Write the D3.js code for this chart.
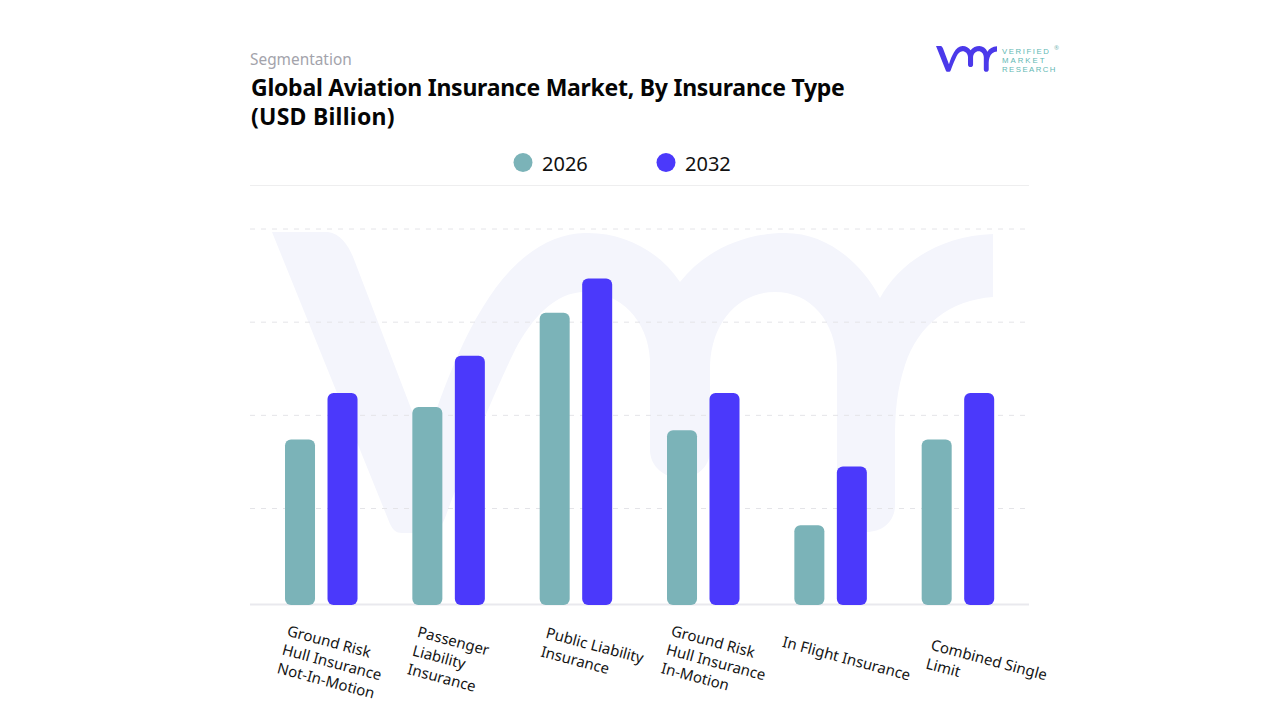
<!DOCTYPE html>
<html><head><meta charset="utf-8">
<script src="https://cdn.jsdelivr.net/npm/d3@7"></script>
<style>html,body{margin:0;background:#fff}svg{display:block}text{font-family:"Noto Sans","Open Sans",sans-serif}</style>
</head><body><svg id="c" width="1280" height="720"></svg>
<script>
const categories=[
 ["Ground Risk","Hull Insurance","Not-In-Motion"],
 ["Passenger","Liability","Insurance"],
 ["Public Liability","Insurance"],
 ["Ground Risk","Hull Insurance","In-Motion"],
 ["In Flight Insurance"],
 ["Combined Single","Limit"]];
const seriesNames=["2026","2032"];
const values2026=[1.77,2.12,3.13,1.87,0.85,1.77];
const values2032=[2.27,2.67,3.5,2.27,1.48,2.27];
const gridTicks=[1.03,2.03,3.03,4.03];

const W=1280,H=720,baseY=604.5,gridL=250,gridR=1029;
const colors=["#7bb3b8","#4b39fb"];
const labelDx=[-35,-32,-31,-33,-49,-28],labelDy=[31,32,33,31,42,45];
const svg=d3.select("#c");

// watermark + logo share the same outline
const vmr="M272 232 L328 232 C342 234 350 248 355 262 L425 445 C440 395 462 340 483 307 C510 262 545 234 585 233 C625 232 660 252 680 282 C705 250 745 233 785 233 C825 233 860 260 880 298 C900 262 940 236 993 234 L993 297 C950 300 918 325 905 365 C897 390 895 410 895 440 L895 505 C895 522 882 532 866 532 C850 532 837 520 837 505 L837 365 C836 320 810 292 775 292 C740 292 712 320 710 365 L710 450 C710 468 696 478 680 478 C664 478 650 466 650 450 L650 360 C648 320 620 292 585 292 C555 292 532 318 515 350 C498 385 470 450 445 518 C441 528 436 533 428 533 L402 533 C396 533 393 530 390 524 Z";
svg.append("path").attr("d",vmr).attr("fill","#f4f5fc");

const x0=d3.scaleBand().domain(d3.range(categories.length)).range([257.6,1021.6]);
const x1=d3.scaleBand().domain(seriesNames).range([0,x0.bandwidth()]).paddingInner(0.294).paddingOuter(0.645);
const y=d3.scaleLinear().domain([0,4.03]).range([baseY,229]);

svg.append("g").selectAll("line").data(gridTicks).join("line")
 .attr("x1",gridL).attr("x2",gridR).attr("y1",d=>y(d)).attr("y2",d=>y(d))
 .attr("stroke","#e4e4e8").attr("stroke-dasharray","5 6");
svg.append("line").attr("x1",gridL).attr("x2",gridR).attr("y1",185.5).attr("y2",185.5).attr("stroke","#eeeeef");
svg.append("line").attr("x1",gridL).attr("x2",gridR).attr("y1",604.5).attr("y2",604.5).attr("stroke","#e9e9ee").attr("stroke-width",2);

[values2026,values2032].forEach((vals,s)=>{
 svg.append("g").selectAll("rect").data(vals).join("rect")
  .attr("x",(d,i)=>x0(i)+x1(seriesNames[s])).attr("width",x1.bandwidth())
  .attr("y",d=>y(d)).attr("height",d=>y(0)-y(d)+0.5).attr("rx",6).attr("fill",colors[s]);
});

// x axis labels
const axis=svg.append("g").attr("transform",`translate(0,${baseY})`)
 .call(d3.axisBottom(x0).tickSize(0).tickFormat(""));
axis.select(".domain").remove();
axis.selectAll(".tick text").each(function(d,i){
 const t=d3.select(this).attr("x",null).attr("y",null).attr("dy",null)
  .attr("text-anchor","start").attr("fill","#151515").style("font-size","15px")
  .style("font-family",'"Noto Sans","Open Sans",sans-serif')
  .attr("transform",`translate(${labelDx[i]},${labelDy[i]}) rotate(15)`);
 categories[i].forEach((l,k)=>t.append("tspan").attr("x",0).attr("y",k*19.3).text(l));
});

// legend
const legX=[523,666];
seriesNames.forEach((n,i)=>{
 svg.append("circle").attr("cx",legX[i]).attr("cy",162.5).attr("r",9.5).attr("fill",colors[i]);
 svg.append("text").attr("x",legX[i]+19).attr("y",170.5).attr("font-size",20).attr("fill","#111").text(n);
});

// headings
svg.append("text").attr("x",250).attr("y",65).attr("font-size",15.4).attr("fill","#a3a3ab").text("Segmentation");
const title=["Global Aviation Insurance Market, By Insurance Type","(USD Billion)"];
const titleSpacing=[-0.26,0.25];
title.forEach((l,i)=>svg.append("text").attr("x",251).attr("y",96+i*29).attr("font-size",23).attr("font-weight",700).attr("letter-spacing",titleSpacing[i]).attr("fill","#050505").text(l));

// logo
svg.append("path").attr("d",vmr).attr("fill","#4b39ea").attr("transform","translate(913,26.2) scale(0.0846,0.0855)");
const logoSpacing=[1.55,2.0,1.45];
["VERIFIED","MARKET","RESEARCH"].forEach((l,i)=>svg.append("text").attr("x",1002).attr("y",53.5+i*9.2)
 .style("font-family",'"Liberation Sans",sans-serif').attr("font-size",7.8).attr("letter-spacing",logoSpacing[i]).attr("fill","#5fb8b3").text(l));
svg.append("text").attr("x",1054).attr("y",50).attr("font-size",6).attr("fill","#7fb9b9").text("®");
</script></body></html>
